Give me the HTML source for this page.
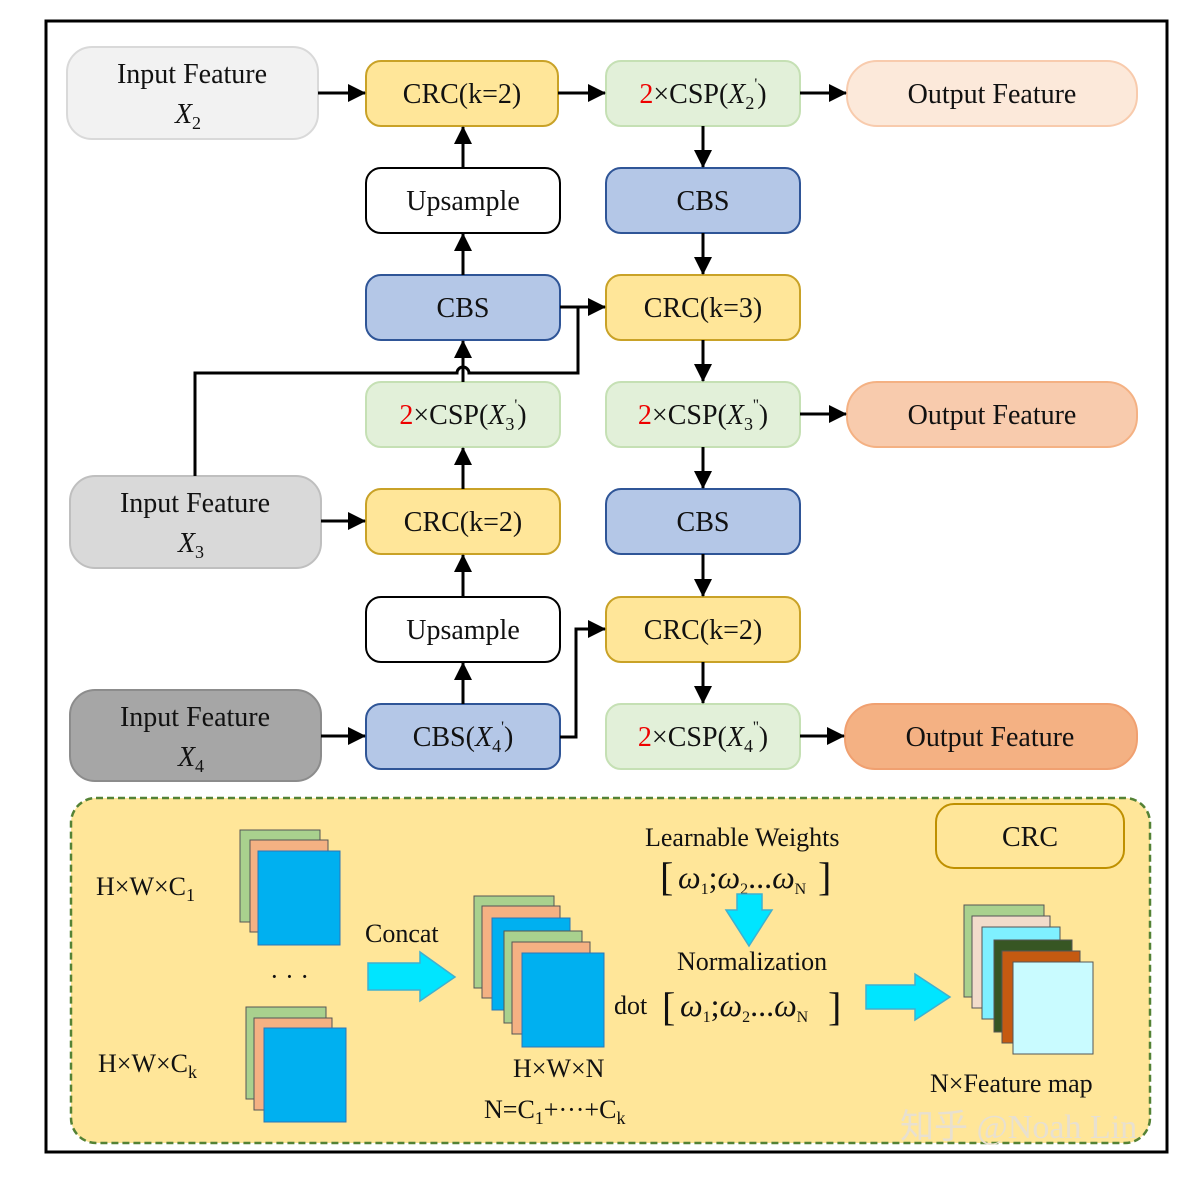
<!DOCTYPE html>
<html><head><meta charset="utf-8"><style>
html,body{margin:0;padding:0;background:#fff}
svg{display:block}
text{font-family:"Liberation Serif",serif;fill:#111}
</style></head><body>
<svg width="1198" height="1178" viewBox="0 0 1198 1178" xmlns="http://www.w3.org/2000/svg">
<defs>
<marker id="a" markerWidth="18" markerHeight="18" refX="17" refY="9" orient="auto" markerUnits="userSpaceOnUse" viewBox="0 0 18 18">
<path d="M0,0 L18,9 L0,18 z" fill="#000"/></marker>
</defs>
<style>
.ar{stroke:#000;stroke-width:3;fill:none}
.bt{font-size:28px;text-anchor:middle}
</style>
<rect x="46" y="21" width="1121" height="1131" fill="#fff" stroke="#000" stroke-width="3"/>

<rect x="67" y="47" width="251" height="92" rx="25" fill="#f2f2f2" stroke="#d9d9d9" stroke-width="2"/>
<text class="bt" x="192" y="83">Input Feature</text>
<text class="bt" x="188" y="123" font-style="italic">X<tspan font-size="18" dy="6" font-style="normal">2</tspan></text>

<rect x="366" y="61" width="192" height="65" rx="15" fill="#ffe699" stroke="#c9a227" stroke-width="2"/>
<text class="bt" x="462" y="103">CRC(k=2)</text>

<rect x="606" y="61" width="194" height="65" rx="15" fill="#e2f0d9" stroke="#c5e0b4" stroke-width="2"/>
<text class="bt" x="703" y="103"><tspan fill="#e00">2</tspan>×CSP(<tspan font-style="italic">X</tspan><tspan font-size="18" dy="6">2</tspan><tspan font-size="16" dy="-20">'</tspan><tspan dy="14">)</tspan></text>

<rect x="847" y="61" width="290" height="65" rx="30" fill="#fce9da" stroke="#f8cbad" stroke-width="2"/>
<text class="bt" x="992" y="103">Output Feature</text>

<rect x="366" y="168" width="194" height="65" rx="15" fill="#fff" stroke="#000" stroke-width="2"/>
<text class="bt" x="463" y="210">Upsample</text>

<rect x="606" y="168" width="194" height="65" rx="15" fill="#b4c7e7" stroke="#2f5597" stroke-width="2"/>
<text class="bt" x="703" y="210">CBS</text>

<rect x="366" y="275" width="194" height="65" rx="15" fill="#b4c7e7" stroke="#2f5597" stroke-width="2"/>
<text class="bt" x="463" y="317">CBS</text>

<rect x="606" y="275" width="194" height="65" rx="15" fill="#ffe699" stroke="#c9a227" stroke-width="2"/>
<text class="bt" x="703" y="317">CRC(k=3)</text>

<rect x="366" y="382" width="194" height="65" rx="15" fill="#e2f0d9" stroke="#c5e0b4" stroke-width="2"/>
<text class="bt" x="463" y="424"><tspan fill="#e00">2</tspan>×CSP(<tspan font-style="italic">X</tspan><tspan font-size="18" dy="6">3</tspan><tspan font-size="16" dy="-20">'</tspan><tspan dy="14">)</tspan></text>

<rect x="606" y="382" width="194" height="65" rx="15" fill="#e2f0d9" stroke="#c5e0b4" stroke-width="2"/>
<text class="bt" x="703" y="424"><tspan fill="#e00">2</tspan>×CSP(<tspan font-style="italic">X</tspan><tspan font-size="18" dy="6">3</tspan><tspan font-size="16" dy="-20">''</tspan><tspan dy="14">)</tspan></text>

<rect x="847" y="382" width="290" height="65" rx="30" fill="#f8cbad" stroke="#f4b183" stroke-width="2"/>
<text class="bt" x="992" y="424">Output Feature</text>

<rect x="70" y="476" width="251" height="92" rx="25" fill="#d9d9d9" stroke="#bfbfbf" stroke-width="2"/>
<text class="bt" x="195" y="512">Input Feature</text>
<text class="bt" x="191" y="552" font-style="italic">X<tspan font-size="18" dy="6" font-style="normal">3</tspan></text>

<rect x="366" y="489" width="194" height="65" rx="15" fill="#ffe699" stroke="#c9a227" stroke-width="2"/>
<text class="bt" x="463" y="531">CRC(k=2)</text>

<rect x="606" y="489" width="194" height="65" rx="15" fill="#b4c7e7" stroke="#2f5597" stroke-width="2"/>
<text class="bt" x="703" y="531">CBS</text>

<rect x="366" y="597" width="194" height="65" rx="15" fill="#fff" stroke="#000" stroke-width="2"/>
<text class="bt" x="463" y="639">Upsample</text>

<rect x="606" y="597" width="194" height="65" rx="15" fill="#ffe699" stroke="#c9a227" stroke-width="2"/>
<text class="bt" x="703" y="639">CRC(k=2)</text>

<rect x="70" y="690" width="251" height="91" rx="25" fill="#a6a6a6" stroke="#8c8c8c" stroke-width="2"/>
<text class="bt" x="195" y="726">Input Feature</text>
<text class="bt" x="191" y="766" font-style="italic">X<tspan font-size="18" dy="6" font-style="normal">4</tspan></text>

<rect x="366" y="704" width="194" height="65" rx="15" fill="#b4c7e7" stroke="#2f5597" stroke-width="2"/>
<text class="bt" x="463" y="746">CBS(<tspan font-style="italic">X</tspan><tspan font-size="18" dy="6">4</tspan><tspan font-size="16" dy="-20">'</tspan><tspan dy="14">)</tspan></text>

<rect x="606" y="704" width="194" height="65" rx="15" fill="#e2f0d9" stroke="#c5e0b4" stroke-width="2"/>
<text class="bt" x="703" y="746"><tspan fill="#e00">2</tspan>×CSP(<tspan font-style="italic">X</tspan><tspan font-size="18" dy="6">4</tspan><tspan font-size="16" dy="-20">''</tspan><tspan dy="14">)</tspan></text>

<rect x="845" y="704" width="292" height="65" rx="30" fill="#f4b183" stroke="#f0a070" stroke-width="2"/>
<text class="bt" x="990" y="746">Output Feature</text>

<line class="ar" x1="318" y1="93" x2="365" y2="93" marker-end="url(#a)"/>
<line class="ar" x1="558" y1="93" x2="605" y2="93" marker-end="url(#a)"/>
<line class="ar" x1="800" y1="93" x2="846" y2="93" marker-end="url(#a)"/>
<line class="ar" x1="703" y1="126" x2="703" y2="167" marker-end="url(#a)"/>
<line class="ar" x1="703" y1="233" x2="703" y2="274" marker-end="url(#a)"/>
<line class="ar" x1="703" y1="340" x2="703" y2="381" marker-end="url(#a)"/>
<line class="ar" x1="800" y1="414" x2="846" y2="414" marker-end="url(#a)"/>
<line class="ar" x1="703" y1="447" x2="703" y2="488" marker-end="url(#a)"/>
<line class="ar" x1="703" y1="554" x2="703" y2="596" marker-end="url(#a)"/>
<line class="ar" x1="703" y1="662" x2="703" y2="703" marker-end="url(#a)"/>
<line class="ar" x1="800" y1="736" x2="844" y2="736" marker-end="url(#a)"/>

<line class="ar" x1="463" y1="168" x2="463" y2="127" marker-end="url(#a)"/>
<line class="ar" x1="463" y1="275" x2="463" y2="234" marker-end="url(#a)"/>
<line class="ar" x1="463" y1="382" x2="463" y2="341" marker-end="url(#a)"/>
<line class="ar" x1="463" y1="489" x2="463" y2="448" marker-end="url(#a)"/>
<line class="ar" x1="463" y1="597" x2="463" y2="555" marker-end="url(#a)"/>
<line class="ar" x1="463" y1="704" x2="463" y2="663" marker-end="url(#a)"/>
<line class="ar" x1="321" y1="521" x2="365" y2="521" marker-end="url(#a)"/>
<line class="ar" x1="321" y1="736" x2="365" y2="736" marker-end="url(#a)"/>
<line class="ar" x1="560" y1="307" x2="605" y2="307" marker-end="url(#a)"/>
<path class="ar" d="M195,476 V373 H457 A6,6 0 0 1 469,373 H578 V307"/>
<path class="ar" d="M560,737 H576 V629 H605" marker-end="url(#a)"/>

<rect x="71" y="798" width="1079" height="345" rx="25" fill="#ffe699" stroke="#548235" stroke-width="2.5" stroke-dasharray="7,4"/>
<rect x="936" y="804" width="188" height="64" rx="18" fill="#ffe699" stroke="#bf9000" stroke-width="2"/>
<text class="bt" x="1030" y="846">CRC</text>

<g font-size="26">
<text x="96" y="895" font-size="26">H×W×C<tspan font-size="18" dy="6">1</tspan></text>
<text x="98" y="1072" font-size="26">H×W×C<tspan font-size="18" dy="6">k</tspan></text>
<text x="365" y="942" font-size="26">Concat</text>
<text x="270" y="985" font-size="26">· · ·</text>
<text x="513" y="1077" font-size="26">H×W×N</text>
<text x="484" y="1118" font-size="26">N=C<tspan font-size="18" dy="6">1</tspan><tspan dy="-6">+···+C</tspan><tspan font-size="18" dy="6">k</tspan></text>
<text x="645" y="846" font-size="26">Learnable Weights</text>
<text x="660" y="890" font-size="40">[</text>
<text x="678" y="888" font-size="32" font-style="italic">ω<tspan font-size="16" dy="6" font-style="normal">1</tspan><tspan dy="-6" font-style="normal">;</tspan>ω<tspan font-size="16" dy="6" font-style="normal">2</tspan><tspan dy="-6" font-style="normal">...</tspan>ω<tspan font-size="16" dy="6" font-style="normal">N</tspan></text>
<text x="818" y="890" font-size="40">]</text>
<text x="677" y="970" font-size="26">Normalization</text>
<text x="614" y="1014" font-size="26">dot</text>
<text x="662" y="1020" font-size="40">[</text>
<text x="680" y="1016" font-size="32" font-style="italic">ω<tspan font-size="16" dy="6" font-style="normal">1</tspan><tspan dy="-6" font-style="normal">;</tspan>ω<tspan font-size="16" dy="6" font-style="normal">2</tspan><tspan dy="-6" font-style="normal">...</tspan>ω<tspan font-size="16" dy="6" font-style="normal">N</tspan></text>
<text x="828" y="1020" font-size="40">]</text>
<text x="930" y="1092" font-size="26">N×Feature map</text>
</g>

<path d="M368,963 H420 V952 L455,977 L420,1001 V990 H368 z" fill="#00e5ff" stroke="#3fb0d0" stroke-width="1.5"/>
<path d="M737,894 H762 V910 H772 L749,946 L726,910 H737 z" fill="#00e5ff" stroke="#3fb0d0" stroke-width="1.5"/>
<path d="M866,985 H915 V974 L950,997 L915,1020 V1009 H866 z" fill="#00e5ff" stroke="#3fb0d0" stroke-width="1.5"/>

<g stroke="#555" stroke-width="1">
<rect x="240" y="830" width="80" height="92" fill="#a9d18e"/>
<rect x="250" y="840" width="78" height="92" fill="#f4b183"/>
<rect x="258" y="851" width="82" height="94" fill="#00b0f0" stroke="#2e75b6"/>
<rect x="246" y="1007" width="80" height="92" fill="#a9d18e"/>
<rect x="254" y="1018" width="78" height="92" fill="#f4b183"/>
<rect x="264" y="1028" width="82" height="94" fill="#00b0f0" stroke="#2e75b6"/>
<rect x="474" y="896" width="80" height="92" fill="#a9d18e"/>
<rect x="482" y="906" width="78" height="92" fill="#f4b183"/>
<rect x="492" y="918" width="78" height="92" fill="#00b0f0" stroke="#2e75b6"/>
<rect x="504" y="931" width="78" height="92" fill="#a9d18e"/>
<rect x="512" y="942" width="78" height="92" fill="#f4b183"/>
<rect x="522" y="953" width="82" height="94" fill="#00b0f0" stroke="#2e75b6"/>
<rect x="964" y="905" width="80" height="92" fill="#a9d18e"/>
<rect x="972" y="916" width="78" height="92" fill="#f2dccb"/>
<rect x="982" y="927" width="78" height="92" fill="#7ff0ff"/>
<rect x="994" y="940" width="78" height="92" fill="#375623"/>
<rect x="1002" y="951" width="78" height="92" fill="#c55a11"/>
<rect x="1013" y="962" width="80" height="92" fill="#c9fbff"/>
</g>

<text x="900" y="1138" font-family="Liberation Sans, Noto Sans CJK SC, sans-serif" font-size="34" style="fill:#e8e0d0">知乎 @Noah Lin</text>
</svg>
</body></html>
